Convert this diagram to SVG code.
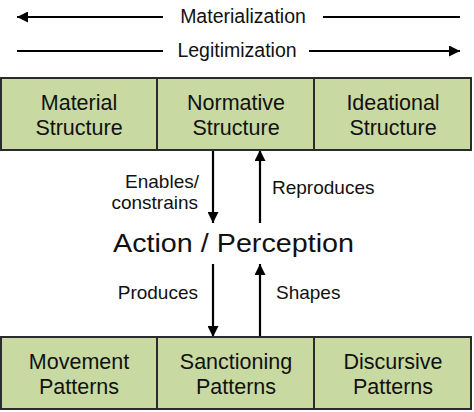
<svg xmlns="http://www.w3.org/2000/svg" width="474" height="412" viewBox="0 0 474 412">
<style>
.box{fill:#c9d9a2;stroke:#2b2b2b;stroke-width:2}
.bt{font-family:"Liberation Sans",Arial,sans-serif;font-size:21.5px;fill:#111;text-anchor:middle}
.lb{font-family:"Liberation Sans",Arial,sans-serif;font-size:19px;fill:#111}
.hd{font-family:"Liberation Sans",Arial,sans-serif;font-size:19.5px;fill:#111;text-anchor:middle}
.ln{stroke:#000;stroke-width:2.2;fill:none}
</style>
<defs>
<marker id="ah" viewBox="0 0 10 10" refX="10" refY="5" markerWidth="5.5" markerHeight="5" orient="auto" markerUnits="strokeWidth"><path d="M0,0 L10,5 L0,10 z" fill="#000"/></marker>
</defs>
<rect width="474" height="412" fill="#fff"/>
<g id="header">
<text class="hd" x="243" y="23">Materialization</text>
<text class="hd" x="237" y="57">Legitimization</text>
</g>
<g id="connectors">
<line class="ln" x1="163" y1="17" x2="17" y2="17" marker-end="url(#ah)"/>
<line class="ln" x1="323" y1="17" x2="460" y2="17"/>
<line class="ln" x1="17" y1="51" x2="163" y2="51"/>
<line class="ln" x1="309" y1="51" x2="460" y2="51" marker-end="url(#ah)"/>
<line class="ln" x1="213" y1="150" x2="213" y2="223" marker-end="url(#ah)"/>
<line class="ln" x1="260" y1="223" x2="260" y2="150" marker-end="url(#ah)"/>
<line class="ln" x1="213" y1="264" x2="213" y2="337" marker-end="url(#ah)"/>
<line class="ln" x1="260" y1="337" x2="260" y2="264" marker-end="url(#ah)"/>
</g>
<g id="material"><rect class="box" x="1" y="78" width="156" height="72"/><text class="bt" x="79" y="110">Material</text><text class="bt" x="79" y="135">Structure</text></g>
<g id="normative"><rect class="box" x="157" y="78" width="157" height="72"/><text class="bt" x="236" y="110">Normative</text><text class="bt" x="236" y="135">Structure</text></g>
<g id="ideational"><rect class="box" x="314" y="78" width="157" height="72"/><text class="bt" x="393" y="110">Ideational</text><text class="bt" x="393" y="135">Structure</text></g>
<g id="action"><text x="233.5" y="252" font-family="Liberation Sans,Arial,sans-serif" font-size="26.5" text-anchor="middle" fill="#111" textLength="241" lengthAdjust="spacingAndGlyphs">Action / Perception</text></g>
<g id="labels">
<text class="lb" x="199" y="188" text-anchor="end">Enables/</text>
<text class="lb" x="198" y="209" text-anchor="end">constrains</text>
<text class="lb" x="272" y="194">Reproduces</text>
<text class="lb" x="198" y="299" text-anchor="end">Produces</text>
<text class="lb" x="276" y="299">Shapes</text>
</g>
<g id="movement"><rect class="box" x="1" y="337" width="156" height="72"/><text class="bt" x="79" y="369">Movement</text><text class="bt" x="79" y="394">Patterns</text></g>
<g id="sanctioning"><rect class="box" x="157" y="337" width="157" height="72"/><text class="bt" x="236" y="369">Sanctioning</text><text class="bt" x="236" y="394">Patterns</text></g>
<g id="discursive"><rect class="box" x="314" y="337" width="157" height="72"/><text class="bt" x="393" y="369">Discursive</text><text class="bt" x="393" y="394">Patterns</text></g>
</svg>
